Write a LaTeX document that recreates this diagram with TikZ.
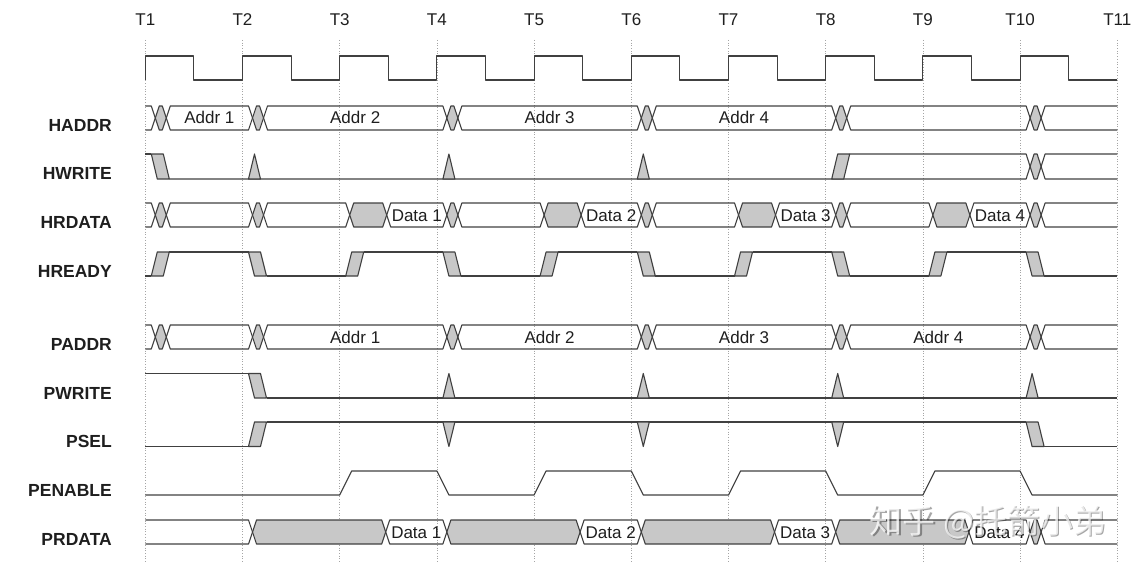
\documentclass[tikz,border=0pt]{standalone}
\usepackage{fontspec}
\setmainfont{Liberation Sans}
\newfontfamily\cjkfont{Noto Sans CJK SC}
\definecolor{sigc}{RGB}{64,64,64}
\definecolor{fillc}{RGB}{200,200,200}
\definecolor{dotc}{RGB}{165,165,165}
\definecolor{txtc}{RGB}{30,30,30}
% bus segment: style, x1, x2, top
\newcommand{\sgbus}[4]{\path[#1] ({#2},{#4+12}) -- ({#2+4},{#4}) -- ({#3-4},{#4}) -- ({#3},{#4+12}) -- ({#3-4},{#4+24}) -- ({#2+4},{#4+24}) -- cycle;}
% valid bus segment with text: x1, x2, top, name, text
\newcommand{\sgval}[5]{\sgbus{valid}{#1}{#2}{#3}\node[bustxt] (#4) at ({(#1+#2)/2},{#3+18}) {#5};}
% first segment from T1 up to crossing c: c, top
\newcommand{\sgbeg}[2]{\draw[sig] ({t(1)},{#2}) -- ({#1-4},{#2}) -- ({#1},{#2+12}) -- ({#1-4},{#2+24}) -- ({t(1)},{#2+24});}
% last segment from crossing c to T11: c, top
\newcommand{\sgfin}[2]{\draw[sig] ({t(11)},{#2}) -- ({#1+4},{#2}) -- ({#1},{#2+12}) -- ({#1+4},{#2+24}) -- ({t(11)},{#2+24});}
% edges: t, high y, low y
\newcommand{\sgrise}[3]{\path[inval] ({#1+6},{#3}) -- ({#1+18},{#3}) -- ({#1+24},{#2}) -- ({#1+12},{#2}) -- cycle;}
\newcommand{\sgfall}[3]{\path[inval] ({#1+6},{#2}) -- ({#1+18},{#2}) -- ({#1+24},{#3}) -- ({#1+12},{#3}) -- cycle;}
\newcommand{\sgup}[3]{\path[inval] ({#1+6},{#3}) -- ({#1+12},{#2}) -- ({#1+18},{#3}) -- cycle;}
\newcommand{\sgdn}[3]{\path[inval] ({#1+6},{#2}) -- ({#1+12},{#3}) -- ({#1+18},{#2}) -- cycle;}
\begin{document}
\begin{tikzpicture}[x=1pt,y=-1pt,
  declare function={t(\n)=145.3+97.2*(\n-1);},
  sig/.style={draw=sigc, line width=1.1pt, line join=round},
  inval/.style={sig, fill=fillc},
  valid/.style={sig},
  dotline/.style={draw=dotc, line width=0.7pt, dotted},
  bustxt/.style={anchor=base, inner sep=0pt, text=txtc, font=\fontsize{17}{20}\selectfont},
  ttxt/.style={anchor=base, inner sep=0pt, text=txtc, font=\fontsize{17}{20}\selectfont},
  lbl/.style={anchor=base east, inner sep=0pt, text=txtc, font=\fontsize{17.5}{20}\selectfont\bfseries}]
\useasboundingbox (0,0) rectangle (1140,567);

% grid and time labels
\foreach \i in {1,...,11}{
  \draw[dotline] ({t(\i)},40) -- ({t(\i)},563);
  \node[ttxt] (T\i) at ({t(\i)},26) {T\i};
}

% clock
\draw[sig] ({t(1)},80) \foreach \i in {1,...,10}{ -- ({t(\i)},56) -- ({t(\i)+48.6},56) -- ({t(\i)+48.6},80) -- ({t(\i+1)},80)};

% labels
\node[lbl] (l-haddr) at (112,131.5) {HADDR};
\node[lbl] (l-hwrite) at (112,179.5) {HWRITE};
\node[lbl] (l-hrdata) at (112,228.5) {HRDATA};
\node[lbl] (l-hready) at (112,277) {HREADY};
\node[lbl] (l-paddr) at (112,350.5) {PADDR};
\node[lbl] (l-pwrite) at (112,399) {PWRITE};
\node[lbl] (l-psel) at (112,447.5) {PSEL};
\node[lbl] (l-penable) at (112,496.5) {PENABLE};
\node[lbl] (l-prdata) at (112,545) {PRDATA};

% HADDR (top 106)
\sgbeg{t(1)+10}{106}
\sgbus{inval}{t(1)+10}{t(1)+21}{106}
\sgval{t(1)+21}{t(2)+10}{106}{ha1}{Addr 1}
\sgbus{inval}{t(2)+10}{t(2)+21}{106}
\sgval{t(2)+21}{t(4)+10}{106}{ha2}{Addr 2}
\sgbus{inval}{t(4)+10}{t(4)+21}{106}
\sgval{t(4)+21}{t(6)+10}{106}{ha3}{Addr 3}
\sgbus{inval}{t(6)+10}{t(6)+21}{106}
\sgval{t(6)+21}{t(8)+10}{106}{ha4}{Addr 4}
\sgbus{inval}{t(8)+10}{t(8)+21}{106}
\sgbus{valid}{t(8)+21}{t(10)+10}{106}
\sgbus{inval}{t(10)+10}{t(10)+21}{106}
\sgfin{t(10)+21}{106}

% HWRITE (high 154, low 179)
\draw[sig] ({t(1)},154) -- ({t(1)+6},154);
\draw[sig] ({t(1)+24},179) -- ({t(10)+6},179) -- ({t(10)+10},166.5) -- ({t(10)+6},154) -- ({t(8)+24},154);
\sgfall{t(1)}{154}{179}
\sgup{t(2)}{154}{179}
\sgup{t(4)}{154}{179}
\sgup{t(6)}{154}{179}
\sgrise{t(8)}{154}{179}
\path[inval] ({t(10)+10},166.5) -- ({t(10)+14},154) -- ({t(10)+17},154) -- ({t(10)+21},166.5) -- ({t(10)+17},179) -- ({t(10)+14},179) -- cycle;
\draw[sig] ({t(11)},154) -- ({t(10)+25},154) -- ({t(10)+21},166.5) -- ({t(10)+25},179) -- ({t(11)},179);

% HRDATA (top 203)
\sgbeg{t(1)+10}{203}
\sgbus{inval}{t(1)+10}{t(1)+21}{203}
\sgbus{valid}{t(1)+21}{t(2)+10}{203}
\sgbus{inval}{t(2)+10}{t(2)+21}{203}
\sgbus{valid}{t(2)+21}{t(3)+10}{203}
\sgbus{inval}{t(3)+10}{t(3)+47}{203}
\sgval{t(3)+47}{t(4)+10}{203}{hd1}{Data 1}
\sgbus{inval}{t(4)+10}{t(4)+21}{203}
\sgbus{valid}{t(4)+21}{t(5)+10}{203}
\sgbus{inval}{t(5)+10}{t(5)+47}{203}
\sgval{t(5)+47}{t(6)+10}{203}{hd2}{Data 2}
\sgbus{inval}{t(6)+10}{t(6)+21}{203}
\sgbus{valid}{t(6)+21}{t(7)+10}{203}
\sgbus{inval}{t(7)+10}{t(7)+47}{203}
\sgval{t(7)+47}{t(8)+10}{203}{hd3}{Data 3}
\sgbus{inval}{t(8)+10}{t(8)+21}{203}
\sgbus{valid}{t(8)+21}{t(9)+10}{203}
\sgbus{inval}{t(9)+10}{t(9)+47}{203}
\sgval{t(9)+47}{t(10)+10}{203}{hd4}{Data 4}
\sgbus{inval}{t(10)+10}{t(10)+21}{203}
\sgfin{t(10)+21}{203}

% HREADY (high 252, low 276)
\draw[sig] ({t(1)},276) -- ({t(1)+6},276);
\draw[sig] ({t(1)+24},252) -- ({t(2)+6},252);
\draw[sig] ({t(2)+24},276) -- ({t(3)+6},276);
\draw[sig] ({t(3)+24},252) -- ({t(4)+6},252);
\draw[sig] ({t(4)+24},276) -- ({t(5)+6},276);
\draw[sig] ({t(5)+24},252) -- ({t(6)+6},252);
\draw[sig] ({t(6)+24},276) -- ({t(7)+6},276);
\draw[sig] ({t(7)+24},252) -- ({t(8)+6},252);
\draw[sig] ({t(8)+24},276) -- ({t(9)+6},276);
\draw[sig] ({t(9)+24},252) -- ({t(10)+6},252);
\draw[sig] ({t(10)+24},276) -- ({t(11)},276);
\sgrise{t(1)}{252}{276}
\sgfall{t(2)}{252}{276}
\sgrise{t(3)}{252}{276}
\sgfall{t(4)}{252}{276}
\sgrise{t(5)}{252}{276}
\sgfall{t(6)}{252}{276}
\sgrise{t(7)}{252}{276}
\sgfall{t(8)}{252}{276}
\sgrise{t(9)}{252}{276}
\sgfall{t(10)}{252}{276}

% PADDR (top 325)
\sgbeg{t(1)+10}{325}
\sgbus{inval}{t(1)+10}{t(1)+21}{325}
\sgbus{valid}{t(1)+21}{t(2)+10}{325}
\sgbus{inval}{t(2)+10}{t(2)+21}{325}
\sgval{t(2)+21}{t(4)+10}{325}{pa1}{Addr 1}
\sgbus{inval}{t(4)+10}{t(4)+21}{325}
\sgval{t(4)+21}{t(6)+10}{325}{pa2}{Addr 2}
\sgbus{inval}{t(6)+10}{t(6)+21}{325}
\sgval{t(6)+21}{t(8)+10}{325}{pa3}{Addr 3}
\sgbus{inval}{t(8)+10}{t(8)+21}{325}
\sgval{t(8)+21}{t(10)+10}{325}{pa4}{Addr 4}
\sgbus{inval}{t(10)+10}{t(10)+21}{325}
\sgfin{t(10)+21}{325}

% PWRITE (high 373.5, low 398)
\draw[sig] ({t(1)},373.5) -- ({t(2)+6},373.5);
\draw[sig] ({t(2)+24},398) -- ({t(11)},398);
\sgfall{t(2)}{373.5}{398}
\sgup{t(4)}{373.5}{398}
\sgup{t(6)}{373.5}{398}
\sgup{t(8)}{373.5}{398}
\sgup{t(10)}{373.5}{398}

% PSEL (high 422, low 446.5)
\draw[sig] ({t(1)},446.5) -- ({t(2)+6},446.5);
\draw[sig] ({t(2)+24},422) -- ({t(10)+6},422);
\draw[sig] ({t(10)+24},446.5) -- ({t(11)},446.5);
\sgrise{t(2)}{422}{446.5}
\sgdn{t(4)}{422}{446.5}
\sgdn{t(6)}{422}{446.5}
\sgdn{t(8)}{422}{446.5}
\sgfall{t(10)}{422}{446.5}

% PENABLE (high 471, low 495)
\draw[sig] ({t(1)},495) -- ({t(3)},495)
  \foreach \i in {3,5,7,9}{ -- ({t(\i)+12},471) -- ({t(\i+1)},471) -- ({t(\i+1)+12},495) -- ({t(\i+2)},495)};

% PRDATA (top 520)
\sgbeg{t(2)+10}{520}
\sgbus{inval}{t(2)+10}{t(3)+46}{520}
\sgval{t(3)+46}{t(4)+10}{520}{pd1}{Data 1}
\sgbus{inval}{t(4)+10}{t(5)+46}{520}
\sgval{t(5)+46}{t(6)+10}{520}{pd2}{Data 2}
\sgbus{inval}{t(6)+10}{t(7)+46}{520}
\sgval{t(7)+46}{t(8)+10}{520}{pd3}{Data 3}
\sgbus{inval}{t(8)+10}{t(9)+46}{520}
\sgval{t(9)+46}{t(10)+10}{520}{pd4}{Data 4}
\sgbus{inval}{t(10)+10}{t(10)+21}{520}
\sgfin{t(10)+21}{520}

% watermark
\node[anchor=center, inner sep=0pt, text=black, opacity=0.35, font=\cjkfont\fontsize{33}{36}\selectfont] (wm-shadow) at (989.5,523.5) {知乎 @托箭小弟};
\node[anchor=center, inner sep=0pt, text=white, opacity=0.75, font=\cjkfont\fontsize{33}{36}\selectfont] (wm) at (988,522) {知乎 @托箭小弟};
\end{tikzpicture}
\end{document}
